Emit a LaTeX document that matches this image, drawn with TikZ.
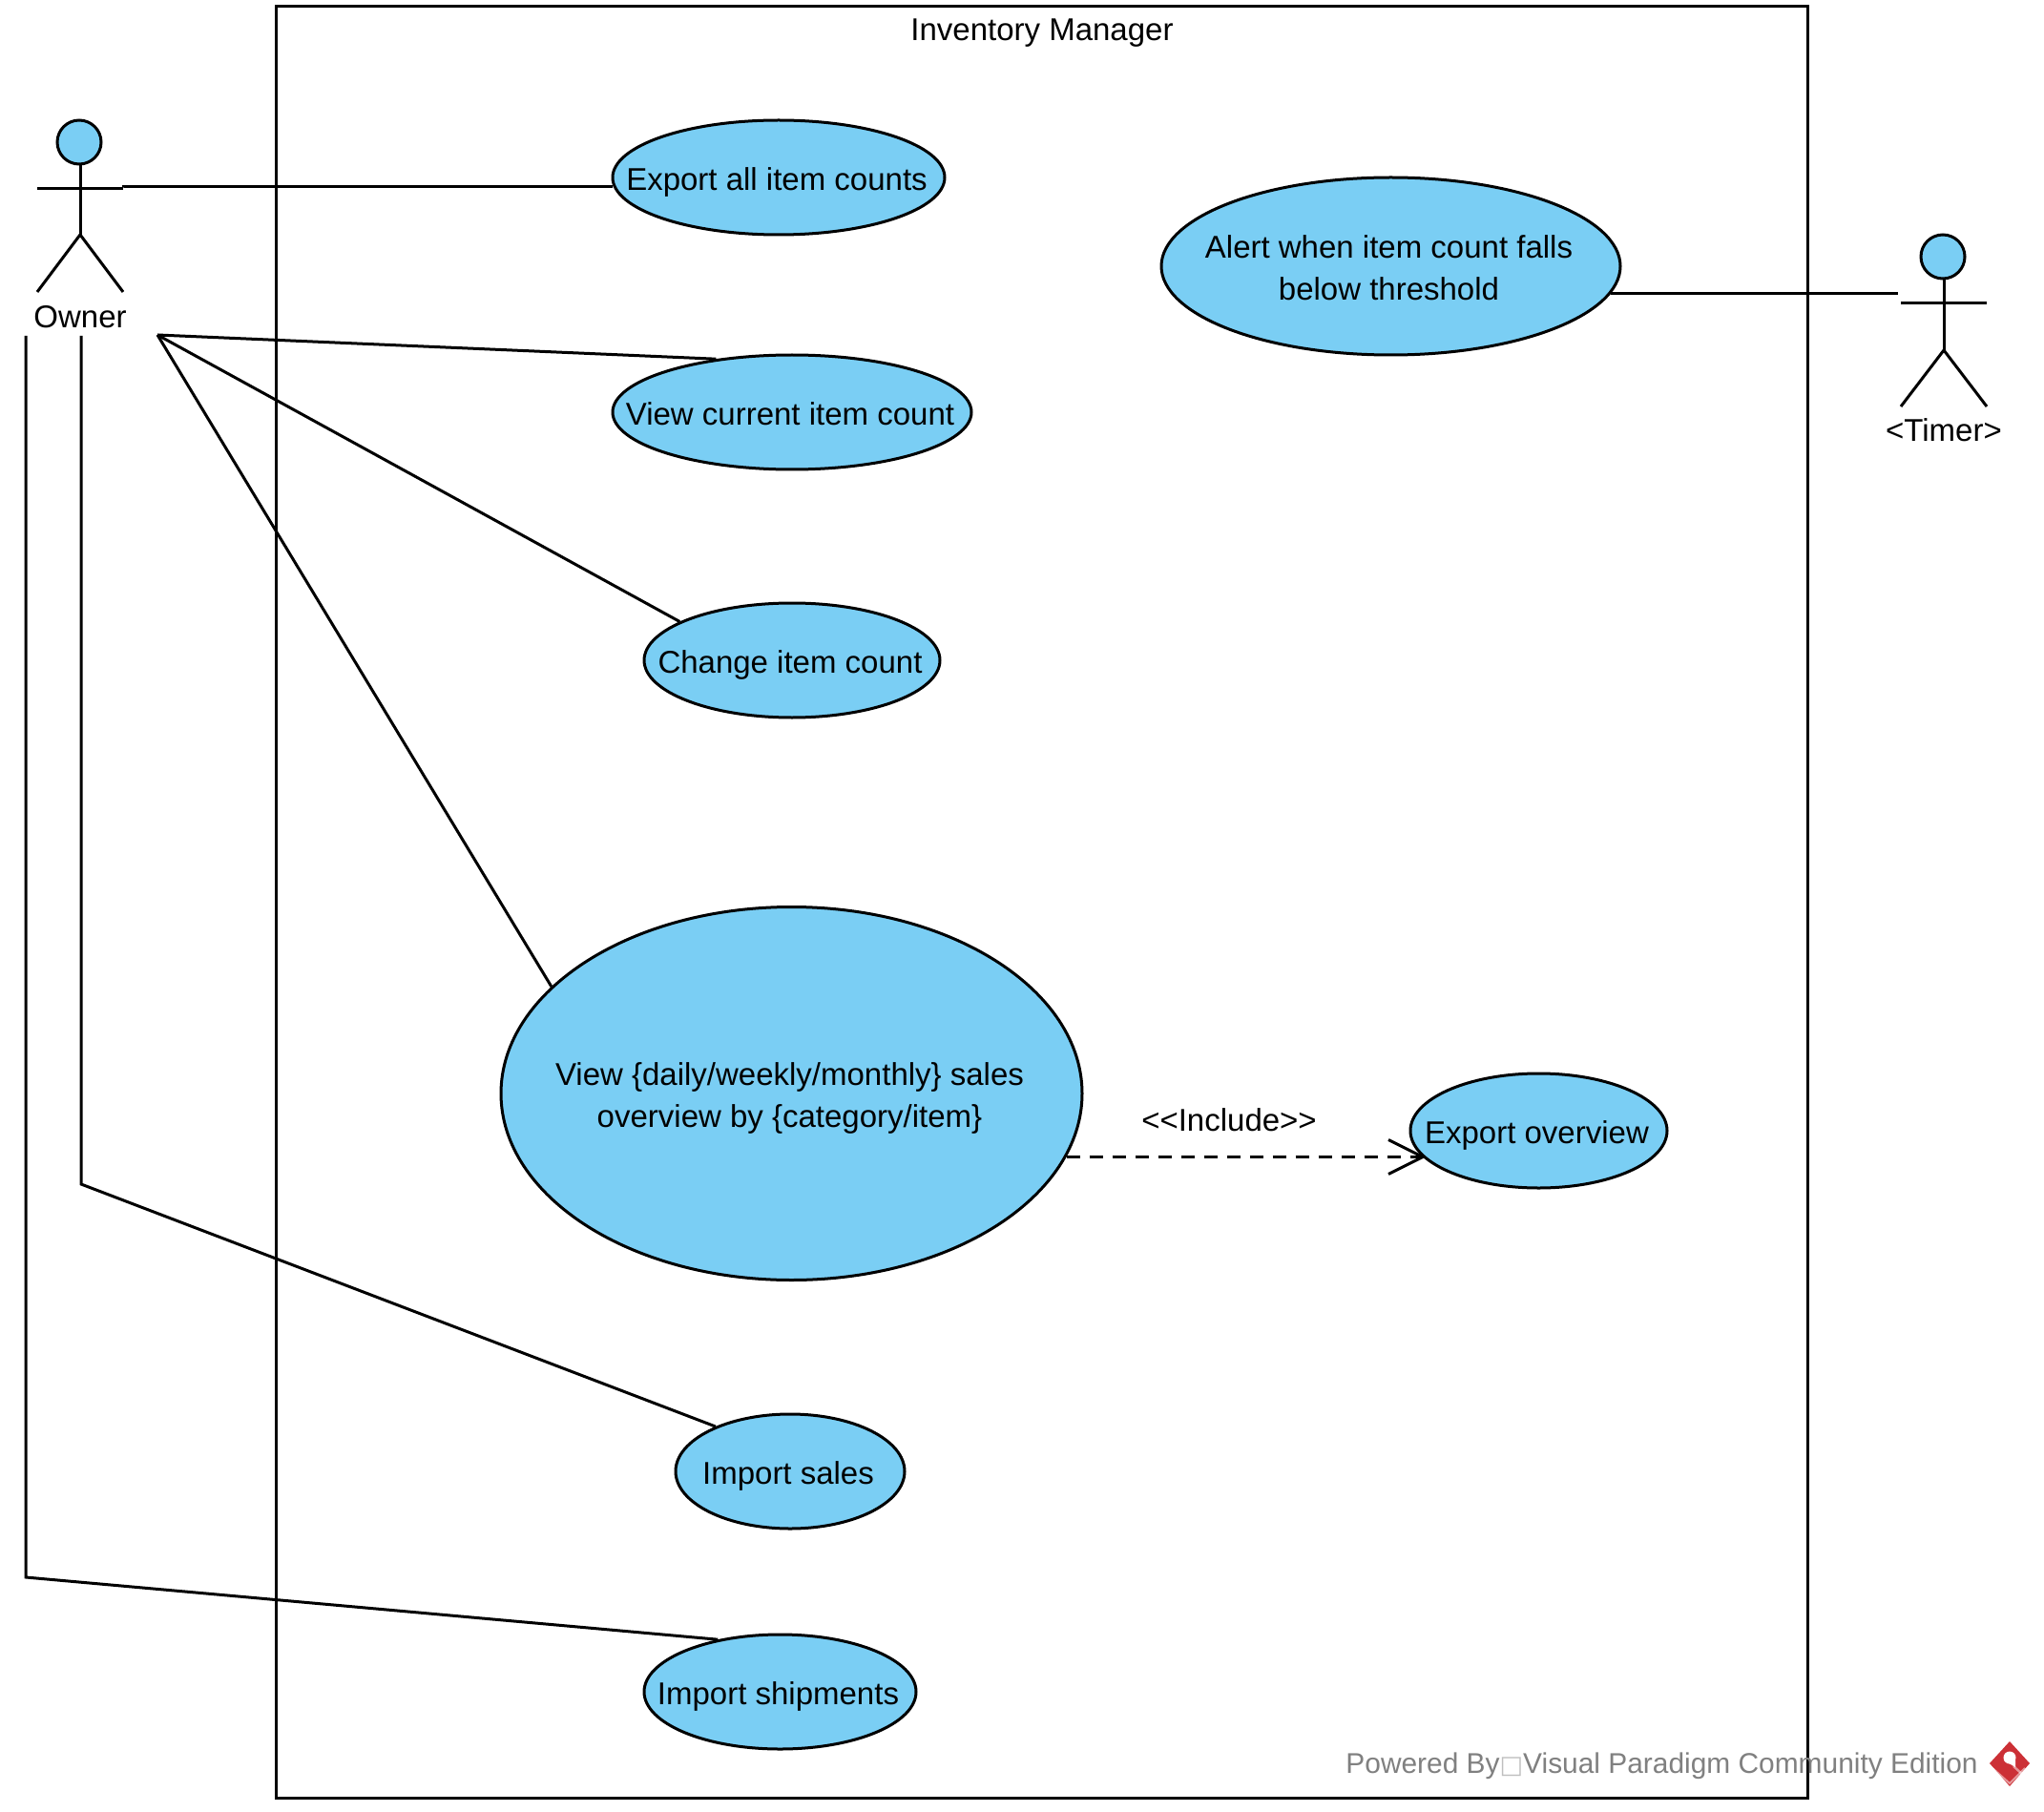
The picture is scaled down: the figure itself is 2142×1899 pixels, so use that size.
\documentclass[tikz,border=0pt]{standalone}
\usepackage{fontspec}
\setmainfont{Liberation Sans}
\newfontfamily\symfont{DejaVu Sans}
\usetikzlibrary{shapes.geometric,arrows.meta}
\definecolor{ucfill}{HTML}{7ACEF4}
\definecolor{wmgray}{HTML}{808080}
\definecolor{wmred}{HTML}{CC3036}
\newcommand{\uclabel}[1]{\makebox[0pt][c]{\hspace{-2pt}\smash{\raisebox{-6.5pt}{\begin{tabular}{@{}c@{}}#1\end{tabular}}}}}
\tikzset{
  x=0.5pt,y=-0.5pt,
  line/.style={line width=1.5pt,black},
  usecase/.style={ellipse,draw=black,line width=1.5pt,fill=ucfill,inner sep=0pt,font=\fontsize{16.5}{22}\selectfont},
  head/.style={circle,draw=black,line width=1.5pt,fill=ucfill,inner sep=0pt,minimum size=23pt},
  txt/.style={font=\fontsize{16.5}{22}\selectfont,inner sep=0pt},
  incl/.style={line,shorten >=-1.5pt,dash pattern=on 7pt off 5pt,-{Straight Barb[length=18pt,width=18pt,line width=1.5pt]}},
}
\begin{document}
\begin{tikzpicture}
\useasboundingbox (0,0) rectangle (2142,1899);
\node[draw=black,line width=1.5pt,minimum width=802.5pt,minimum height=939pt,inner sep=0pt,anchor=north west] (frame) at (288,5) {};
\node[txt,anchor=center] (title) at (1092,35) {Inventory Manager};

\node[usecase,minimum width=174pt,minimum height=60pt] (exportall) at (816,186) {\uclabel{Export all item counts}};
\node[usecase,minimum width=240.5pt,minimum height=93pt] (alert) at (1457.5,279) {\uclabel{Alert when item count falls\\below threshold}};
\node[usecase,minimum width=188pt,minimum height=60pt] (viewcur) at (830,432) {\uclabel{View current item count}};
\node[usecase,minimum width=155pt,minimum height=60pt] (change) at (830,692) {\uclabel{Change item count}};
\node[usecase,minimum width=304.5pt,minimum height=195.5pt] (daily) at (829.5,1146) {\uclabel{View \{daily/weekly/monthly\} sales\\overview by \{category/item\}}};
\node[usecase,minimum width=134.5pt,minimum height=60pt] (exportov) at (1612.5,1185) {\uclabel{Export overview}};
\node[usecase,minimum width=120pt,minimum height=60pt] (impsales) at (828,1542) {\uclabel{Import sales}};
\node[usecase,minimum width=142.5pt,minimum height=60pt] (impship) at (817.5,1773) {\uclabel{Import shipments}};

% Owner actor
\node[head] (ownerhead) at (83,149) {};
\coordinate (ownerarmL) at (39,198);
\coordinate (ownerarmR) at (129,198);
\coordinate (ownerhip) at (84,246);
\coordinate (ownerlegL) at (39,306);
\coordinate (ownerlegR) at (129,306);
\draw[line] (ownerhead.south -| ownerhip) -- (ownerhip);
\draw[line] (ownerarmL) -- (ownerarmR);
\draw[line] (ownerlegL) -- (ownerhip) -- (ownerlegR);
\node[txt] (owner) at (84,332) {Owner};

% Timer actor
\node[head] (timerhead) at (2036,269) {};
\coordinate (timerarmL) at (1992,318);
\coordinate (timerarmR) at (2082,318);
\coordinate (timerhip) at (2037,367);
\coordinate (timerlegL) at (1992,426);
\coordinate (timerlegR) at (2082,426);
\draw[line] (timerhead.south -| timerhip) -- (timerhip);
\draw[line] (timerarmL) -- (timerarmR);
\draw[line] (timerlegL) -- (timerhip) -- (timerlegR);
\node[txt] (timer) at (2037,451) {<Timer>};

% connectors
\coordinate (ownerR) at (129,196);
\coordinate (fan) at (165,351);
\coordinate (ownerD) at (85,352);
\coordinate (ownerDb) at (85,1241);
\coordinate (ownerE) at (27,352);
\coordinate (ownerEb) at (27,1653);
\coordinate (timerL) at (1989,306);
\draw[line] (ownerR) -- (exportall.183.3 -| ownerR) -- (exportall.183.3);
\draw[line] (fan) -- (viewcur.145.2);
\draw[line] (fan) -- (change.161.3);
\draw[line] (fan) -- (daily.156.2);
\draw[line] (ownerD) -- (ownerDb) -- (impsales.149.8);
\draw[line] (ownerE) -- (ownerEb) -- (impship.140);
\draw[line] (alert.-7.1) -- (alert.-7.1 -| timerL);
\draw[incl] (daily.-13.6) -- (exportov.193.3 |- daily.-13.6);
\node[txt] (include) at (1288,1174) {<{}<Include>{}>};

% watermark
\node[txt,text=wmgray,anchor=east,font=\fontsize{14.95}{20}\selectfont] (wm) at (2073,1851) {Powered By{\symfont\color{lightgray}\fontsize{13}{20}\selectfont □}Visual Paradigm Community Edition};
\fill[wmred] (2106,1825) -- (2127,1848) -- (2106,1872) -- (2085,1848) -- cycle;
\fill[white] (2106,1842) circle[radius=6.5];
\fill[white] (2100,1845) -- (2112,1845) -- (2112,1852) -- cycle;
\draw[white,opacity=.5,line width=1.2pt] (2110,1851) -- (2122,1862);
\draw[white,opacity=.5,line width=1pt] (2088,1853) -- (2106,1869) -- (2122,1853);
\end{tikzpicture}
\end{document}
